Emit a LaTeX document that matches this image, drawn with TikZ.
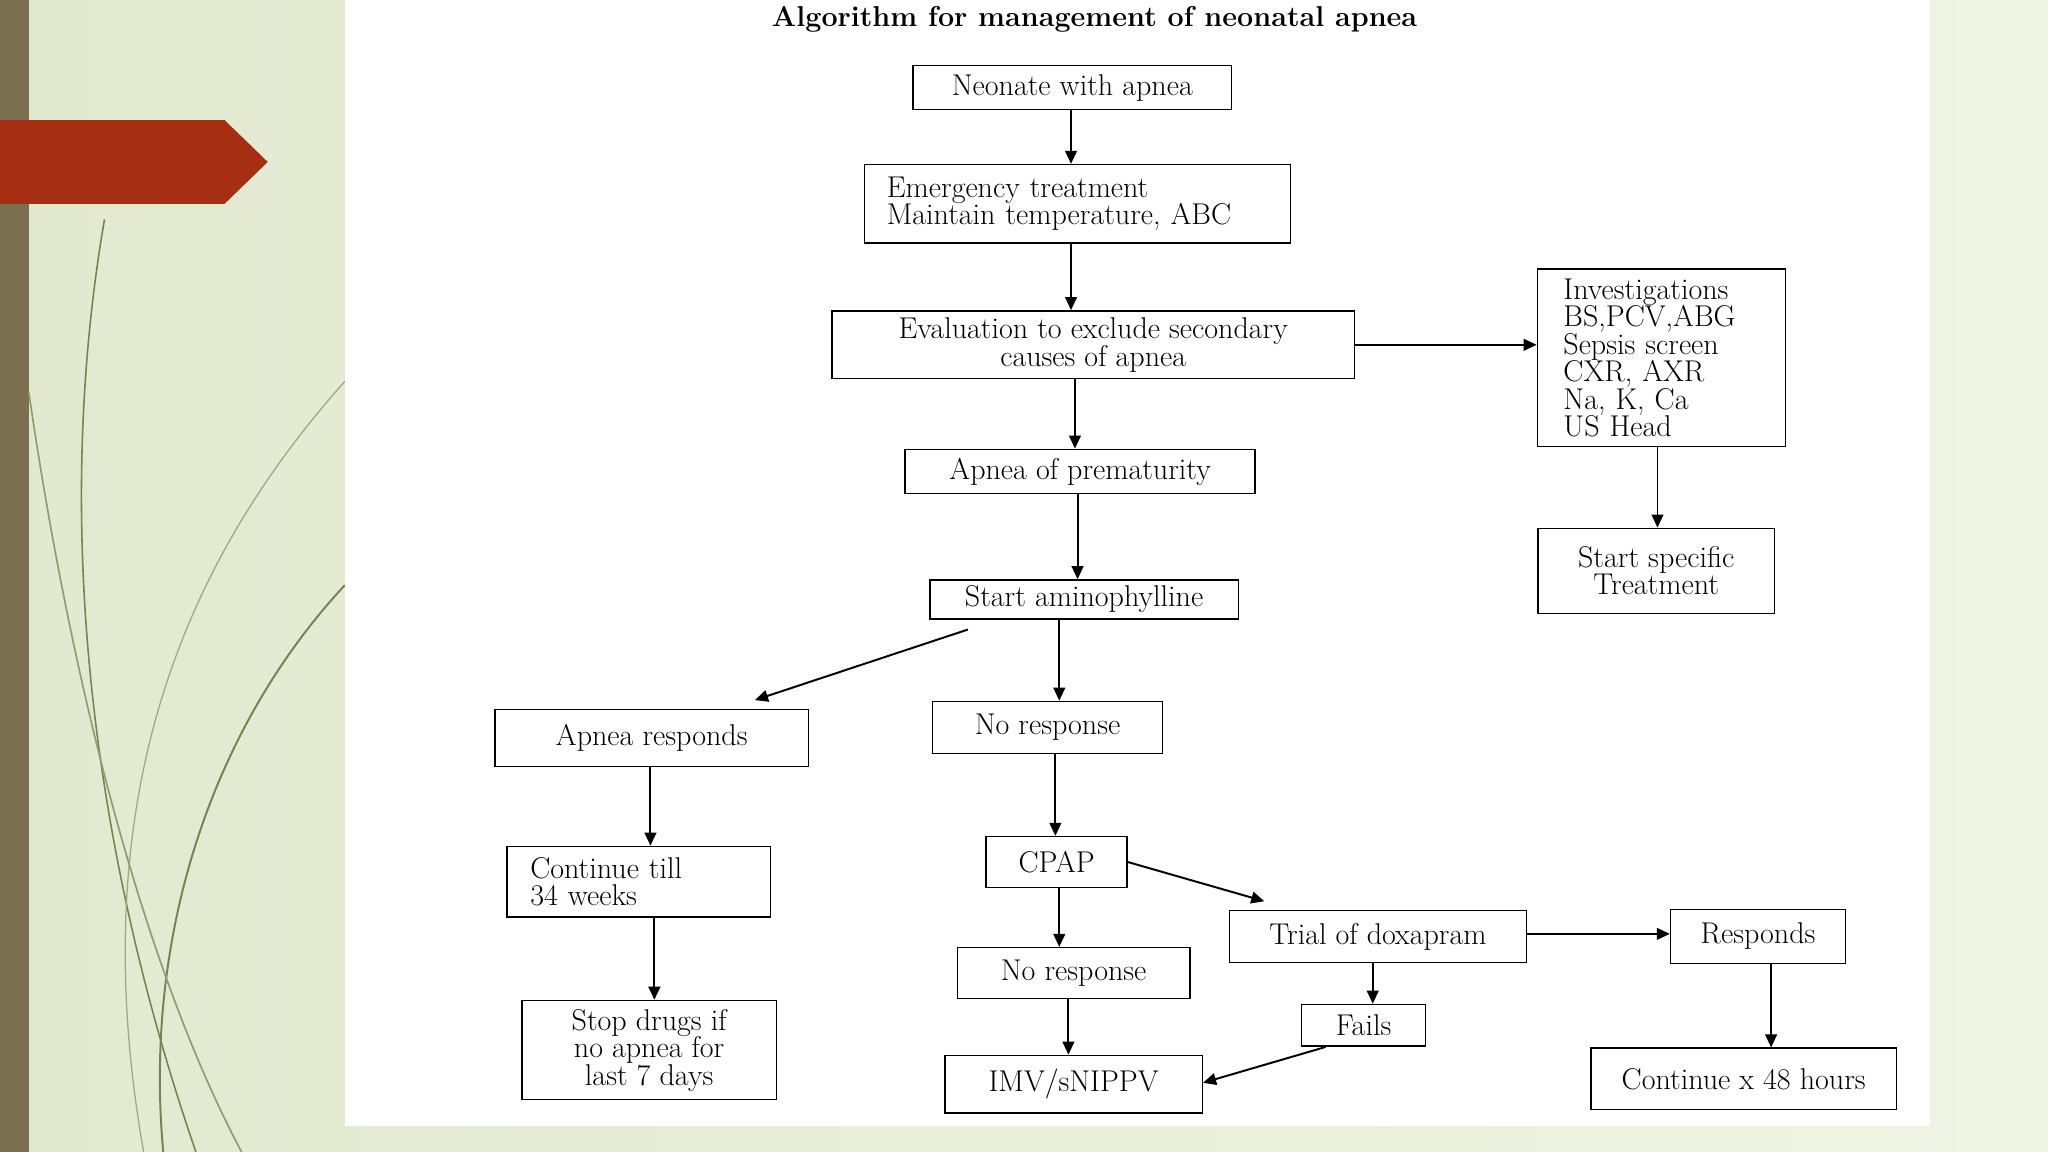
\documentclass[tikz,border=0pt]{standalone}
\usetikzlibrary{arrows.meta}
\definecolor{bgA}{RGB}{226,233,208}
\definecolor{bgB}{RGB}{240,244,228}
\definecolor{barc}{RGB}{122,112,80}
\definecolor{redc}{RGB}{166,46,18}
\definecolor{leaf}{RGB}{120,130,80}
\tikzset{
  box/.style={draw=black, line width=1.1pt, inner sep=0pt, font=\fontsize{23}{21}\selectfont},
  lbox/.style={box, align=left},
  cbox/.style={box, align=center},
  arr/.style={line width=1.5pt, -{Triangle[length=10pt,width=9pt]}}
}
\begin{document}
\begin{tikzpicture}[x=1pt,y=-1pt]
\useasboundingbox (0,0) rectangle (1568,882);
% slide background
\shade[left color=bgA, right color=bgB] (0,0) rectangle (1568,882);
\fill[barc] (0,0) rectangle (22,882);
\fill[redc] (0,92) -- (172,92) -- (205,124) -- (172,156) -- (0,156) -- cycle;
\draw[leaf, line width=1.2pt] (80,168) .. controls (40,400) and (70,650) .. (150,882);
\draw[leaf!70, line width=1pt] (264,292) .. controls (150,420) and (60,600) .. (110,882);
\draw[leaf, line width=1.5pt] (264,448) .. controls (160,560) and (110,720) .. (125,882);
\draw[leaf!80, line width=1.3pt] (22,300) .. controls (60,560) and (120,760) .. (185,882);
\fill[white] (264,0) rectangle (1478,862);
% title
\node (title) [font=\fontsize{22}{22}\selectfont\bfseries] at (838,15) {Algorithm for management of neonatal apnea};
% nodes
\node (n1) [cbox, minimum width=244pt, minimum height=34pt] at (821,67) {Neonate with apnea};
\node (n2) [lbox, minimum width=326pt, minimum height=60pt, text width=292pt] at (825,156) {Emergency treatment\\Maintain temperature, ABC};
\node (n3) [cbox, minimum width=400pt, minimum height=52pt] at (837,264) {Evaluation to exclude secondary\\causes of apnea};
\node (inv) [lbox, minimum width=190pt, minimum height=136pt, text width=150pt] at (1272,274) {Investigations\\BS,PCV,ABG\\Sepsis screen\\CXR, AXR\\Na, K, Ca\\US Head};
\node (spec) [cbox, minimum width=181pt, minimum height=65pt] at (1268,437) {Start specific\\Treatment};
\node (n4) [cbox, minimum width=268pt, minimum height=34pt] at (827,361) {Apnea of prematurity};
\node (n5) [cbox, minimum width=236pt, minimum height=30pt] at (830,459) {Start aminophylline};
\node (resp) [cbox, minimum width=240pt, minimum height=44pt] at (499,565) {Apnea responds};
\node (nores) [cbox, minimum width=176pt, minimum height=40pt] at (802,557) {No response};
\node (cont) [lbox, minimum width=202pt, minimum height=54pt, text width=166pt] at (489,675) {Continue till\\34 weeks};
\node (stop) [cbox, minimum width=195pt, minimum height=76pt] at (497,804) {Stop drugs if\\no apnea for\\last 7 days};
\node (cpap) [cbox, minimum width=108pt, minimum height=39pt] at (809,660) {CPAP};
\node (nores2) [cbox, minimum width=178pt, minimum height=39pt] at (822,745) {No response};
\node (imv) [cbox, minimum width=197pt, minimum height=44pt] at (822,830) {IMV/sNIPPV};
\node (dox) [cbox, minimum width=227pt, minimum height=40pt] at (1055,717) {Trial of doxapram};
\node (fails) [cbox, minimum width=95pt, minimum height=32pt] at (1044,785) {Fails};
\node (resps) [cbox, minimum width=134pt, minimum height=41pt] at (1346,717) {Responds};
\node (c48) [cbox, minimum width=234pt, minimum height=47pt] at (1335,826) {Continue x 48 hours};
% connectors
\draw[arr] (n1.south -| 820,0) -- (n2.north -| 820,0);
\draw[arr] (n2.south -| 820,0) -- (n3.north -| 820,0);
\draw[arr] (n3.east) -- (inv.west |- n3.east);
\draw[arr] (inv.south -| 1269,0) -- (spec.north -| 1269,0);
\draw[arr] (n3.south -| 823,0) -- (n4.north -| 823,0);
\draw[arr] (n4.south -| 825,0) -- (n5.north -| 825,0);
\draw[arr] (n5.south -| 811,0) -- (nores.north -| 811,0);
\coordinate (a1) at (741,482);
\coordinate (a2) at (578,536);
\draw[arr] (a1) -- (a2);
\draw[arr] (resp.south -| 498,0) -- (cont.north -| 498,0);
\draw[arr] (cont.south -| 501,0) -- (stop.north -| 501,0);
\draw[arr] (nores.south -| 808,0) -- (cpap.north -| 808,0);
\draw[arr] (cpap.south -| 811,0) -- (nores2.north -| 811,0);
\coordinate (d1) at (968,690);
\draw[arr] (cpap.east) -- (d1);
\draw[arr] (nores2.south -| 818,0) -- (imv.north -| 818,0);
\draw[arr] (dox.east |- 0,715) -- (resps.west |- 0,715);
\draw[arr] (dox.south -| 1051,0) -- (fails.north -| 1051,0);
\draw[arr] (fails.south -| 1015,0) -- (imv.east |- 0,829);
\draw[arr] (resps.south -| 1356,0) -- (c48.north -| 1356,0);
\end{tikzpicture}
\end{document}
